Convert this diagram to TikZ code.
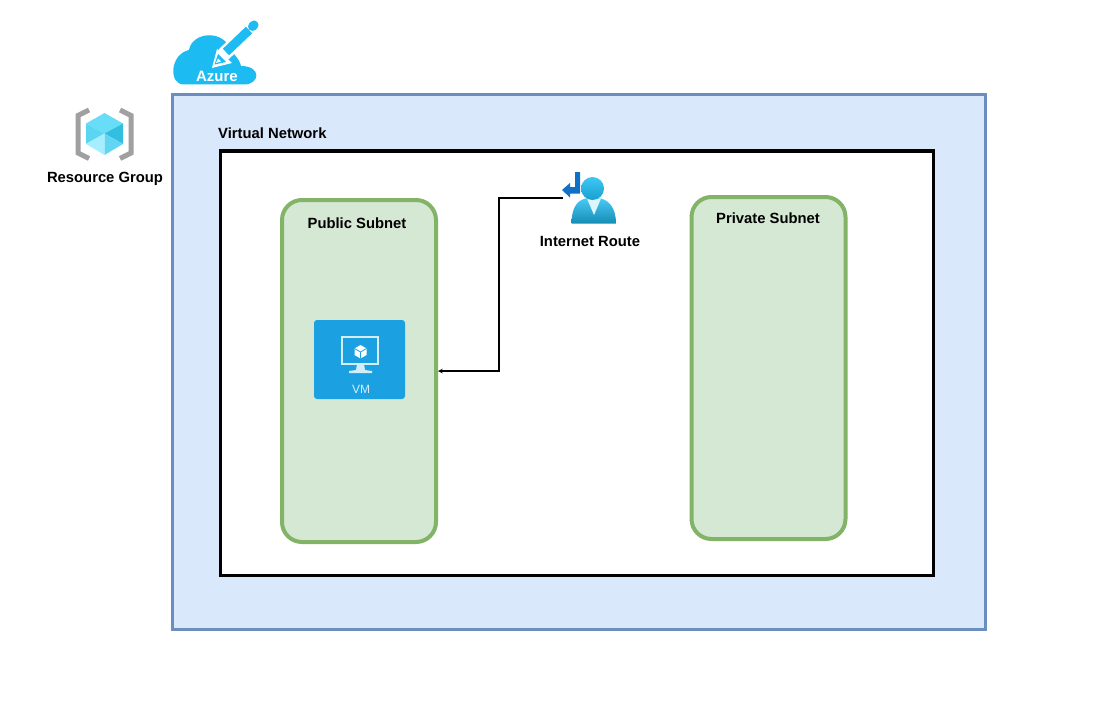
\documentclass[tikz,border=0pt]{standalone}
\usepackage{fontspec}
\setmainfont{Liberation Sans}
\definecolor{vnetfill}{HTML}{DAE8FC}
\definecolor{vnetline}{HTML}{6C8EBF}
\definecolor{subnetfill}{HTML}{D5E8D4}
\definecolor{subnetline}{HTML}{82B366}
\definecolor{azureblue}{HTML}{1CBCF2}
\definecolor{vmblue}{HTML}{1BA1E2}
\definecolor{vmlight}{HTML}{D4EEF9}
\definecolor{routeblue}{HTML}{1070C8}
\definecolor{bracketgray}{HTML}{A0A0A0}
\tikzset{
  zone/.style={draw,rectangle,anchor=center},
  subnet/.style={zone,draw=subnetline,fill=subnetfill,line width=4pt,rounded corners=20pt,minimum width=154pt,minimum height=342pt},
  lbl/.style={font=\bfseries\fontsize{14.8}{18}\selectfont,inner sep=0pt},
}
\begin{document}
\begin{tikzpicture}[x=1pt,y=-1pt]
\useasboundingbox (0,0) rectangle (1108,706);
% boxes
\node[zone,draw=vnetline,fill=vnetfill,line width=3pt,minimum width=813pt,minimum height=534pt] (azurebox) at (578.5,362) {};
\node[zone,draw=black,fill=white,line width=3pt,minimum width=713pt,minimum height=424pt] (vnetbox) at (576.5,363) {};
\node[subnet] (publicnet) at (359,371) {};
\node[subnet] (privatenet) at (768.5,368) {};
\node[lbl,anchor=west] (vnetlabel) at (218,133.5) {Virtual Network};
\node[lbl] (publiclabel) at (357,223.5) {Public Subnet};
\node[lbl] (privatelabel) at (768,218.5) {Private Subnet};
\node[lbl] (routelabel) at (590,241.5) {Internet Route};
\node[lbl] (grouplabel) at (105,179) {Resource Group};
% azure cloud
\fill[azureblue] (184,84.5) .. controls (168,84.5) and (170,54) .. (189,50) .. controls (192,32) and (224,28) .. (232,52) .. controls (238,58) and (240,62) .. (241,66) .. controls (262,66) and (260,84.5) .. (244,84.5) -- cycle;
\draw[white,line width=14pt,line cap=round] (224,54) -- (254,25);
\draw[azureblue,line width=9pt] (226,52) -- (249,30);
\draw[azureblue,line width=9pt,line cap=round] (252.5,26.5) -- (254,25);
\fill[white] (212,68) -- (217,49) -- (232,63) -- cycle;
\fill[azureblue] (214.5,64.5) -- (218,54) -- (226,62) -- cycle;
\fill[white] (216,63) -- (218,58.5) -- (221,61.5) -- cycle;
\node[font=\bfseries\fontsize{15}{18}\selectfont,text=white,inner sep=0pt] (azurelabel) at (217,76) {Azure};
% resource group
\draw[bracketgray,line width=5pt] (89,110) -- (78,115.5) -- (78,153) -- (89,158.5);
\draw[bracketgray,line width=5pt] (120,110) -- (131,115.5) -- (131,153) -- (120,158.5);
\fill[color={rgb,255:red,104;green,221;blue,248}] (104.5,113) -- (123,123.5) -- (104.5,133.5) -- (86,123.5) -- cycle;
\fill[color={rgb,255:red,50;green,190;blue,222}] (123,123.5) -- (123,144) -- (104.5,133.5) -- cycle;
\fill[color={rgb,255:red,90;green,214;blue,243}] (86,123.5) -- (104.5,133.5) -- (86,144) -- cycle;
\fill[color={rgb,255:red,166;green,238;blue,255}] (86,144) -- (104.5,133.5) -- (104.5,155) -- cycle;
\fill[color={rgb,255:red,96;green,214;blue,242}] (123,144) -- (104.5,133.5) -- (104.5,155) -- cycle;
% route icon
\shade[top color=azureblue!80!white,bottom color=azureblue!75!black] (571.5,223.5) .. controls (571.5,207) and (578,198) .. (590,198) -- (596,198) .. controls (608,198) and (616,207) .. (616,223.5) -- cycle;
\fill[white!85!azureblue] (587,198.5) -- (601,198.5) -- (594,215) -- cycle;
\shade[top color=azureblue!85!white,bottom color=azureblue!85!black] (592.5,188.5) circle [radius=11.5];
\fill[routeblue] (575,172) -- (580,172) -- (580,193.5) -- (570,193.5) -- (570,197.5) -- (562,190) -- (570,183) -- (570,187) -- (575,187) -- cycle;
% vm
\node[zone,draw=none,fill=vmblue,rounded corners=3pt,minimum width=91pt,minimum height=79pt] (vmbox) at (359.5,359.5) {};
\draw[vmlight,line width=2pt] (342,337) rectangle (378,364);
\fill[vmlight] (357,364) -- (364,364) -- (365,370) -- (372,371) -- (372,373) -- (349,373) -- (349,371) -- (356,370) -- cycle;
\fill[white] (360.5,345) -- (366.5,348.5) -- (366.5,355) -- (360.5,358.5) -- (354.5,355) -- (354.5,348.5) -- cycle;
\draw[vmblue,line width=.8pt] (354.5,348.5) -- (360.5,352) -- (366.5,348.5) (360.5,352) -- (360.5,358.5);
\node[font=\fontsize{12}{14}\selectfont,text=vmlight,inner sep=0pt] (vmlabel) at (361,389) {VM};
% route to public subnet
\coordinate (routeout) at (563,198);
\coordinate (routebend) at (499,285);
\draw[-stealth,line width=1.1pt] (routeout) -| (routebend) |- (publicnet.east);
\end{tikzpicture}
\end{document}
